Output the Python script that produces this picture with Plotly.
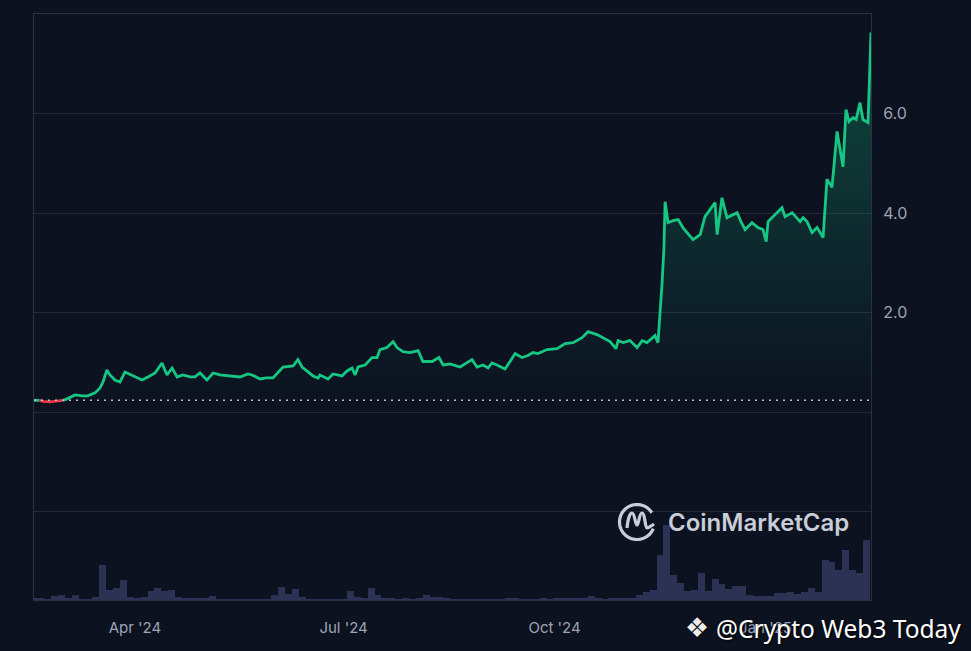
import numpy as np
import pandas as pd
import plotly.graph_objects as go

# ---------------- data ----------------
start_date = "2024-02-17"
end_date = "2025-02-16"

# day offsets from start_date and price (USD)
price_day = [
    0, 1.7, 3.9, 7.0, 10.5, 12.6, 14.4, 17.9, 20.9, 23.5,
    26.6, 28.8, 30.1, 31.8, 33.1, 35.3, 37.5, 39.7, 42.7, 44.9,
    47.1, 49.7, 52.8, 55.8, 58.0, 60.2, 62.4, 65.0, 68.0, 70.2,
    72.4, 75.4, 78.1, 81.1, 85.5, 89.8, 93.3, 95.1, 98.6, 101.2,
    104.2, 106.4, 108.6, 113.0, 115.1, 116.9, 119.5, 121.7, 123.9, 124.7,
    128.2, 130.4, 134.3, 136.5, 138.7, 140.0, 141.3, 144.4, 147.4, 149.6,
    150.9, 153.9, 156.6, 158.3, 160.9, 164.0, 167.5, 169.6, 173.6, 176.6,
    178.4, 181.4, 185.8, 188.8, 191.0, 193.2, 195.8, 198.0, 199.7, 201.9,
    205.4, 207.6, 209.8, 212.8, 215.4, 217.6, 219.8, 223.7, 228.1, 231.6,
    235.1, 239.0, 241.6, 245.5, 248.1, 251.2, 253.8, 254.7, 256.9, 259.9,
    263.0, 265.2, 267.3, 270.8, 272.1, 273.0, 273.9, 274.7, 275.2, 276.5,
    278.7, 280.9, 283.0, 284.8, 287.4, 290.5, 292.6, 294.8, 297.0, 297.9,
    300.0, 302.2, 306.6, 308.3, 310.1, 313.1, 315.7, 317.9, 319.3, 320.1,
    323.2, 326.2, 327.5, 330.6, 334.1, 335.4, 337.1, 339.3, 341.5, 344.1,
    345.8, 348.0, 350.2, 352.8, 354.1, 355.4, 357.2, 358.5, 360.2, 361.5,
    363.7, 365.0,
]
price_usd = [
    0.24, 0.25, 0.22, 0.21, 0.22, 0.24, 0.27, 0.35, 0.33, 0.33,
    0.39, 0.49, 0.61, 0.85, 0.75, 0.65, 0.61, 0.81, 0.75, 0.71,
    0.65, 0.71, 0.79, 0.99, 0.75, 0.89, 0.71, 0.75, 0.71, 0.71,
    0.79, 0.65, 0.79, 0.75, 0.73, 0.71, 0.77, 0.75, 0.67, 0.69,
    0.69, 0.81, 0.91, 0.93, 1.06, 0.91, 0.81, 0.73, 0.69, 0.75,
    0.67, 0.77, 0.73, 0.83, 0.89, 0.75, 0.91, 0.95, 1.10, 1.10,
    1.26, 1.30, 1.42, 1.30, 1.22, 1.20, 1.24, 1.02, 1.02, 1.10,
    0.95, 0.97, 0.91, 0.99, 1.06, 0.91, 0.95, 0.89, 0.99, 0.95,
    0.87, 1.02, 1.18, 1.10, 1.14, 1.20, 1.18, 1.26, 1.28, 1.38,
    1.40, 1.50, 1.62, 1.56, 1.50, 1.42, 1.28, 1.44, 1.40, 1.44,
    1.30, 1.44, 1.40, 1.54, 1.40, 1.96, 2.60, 3.30, 4.23, 3.81,
    3.85, 3.87, 3.71, 3.61, 3.47, 3.57, 3.93, 4.07, 4.21, 3.57,
    4.31, 3.91, 4.01, 3.83, 3.67, 3.81, 3.71, 3.67, 3.43, 3.83,
    3.97, 4.11, 3.93, 4.01, 3.83, 3.91, 3.83, 3.61, 3.71, 3.51,
    4.68, 4.52, 5.64, 4.93, 6.08, 5.84, 5.92, 5.88, 6.22, 5.88,
    5.82, 7.63,
]

# volume, one value per 3-day bucket (relative units)
volume_step_days = 3
volume = [
    1.5, 1.5, 1, 4, 5, 1.5, 5, 1, 0.7, 3,
    35, 10, 12, 20, 3, 2.5, 3, 9, 12, 9,
    10, 3, 2.5, 2, 2.5, 2, 3.5, 1, 0.7, 0.7,
    0.7, 0.7, 1, 0.7, 0.7, 5, 13, 6, 11, 3,
    1, 0.7, 0.7, 0.7, 1, 1, 9, 3, 2, 12,
    5, 2, 1.5, 1, 1.5, 1, 1.5, 5, 3, 3,
    2.5, 1, 0.7, 0.7, 0.7, 0.7, 0.7, 0.7, 0.7, 1.7,
    1.5, 0.7, 0.7, 1, 1.7, 1, 2, 2.5, 2.5, 2,
    1.5, 4, 2, 1, 1.5, 2.5, 2.5, 2.5, 5, 8,
    10, 45, 75, 25, 17, 9, 10, 27, 9, 21,
    16, 11, 14, 14, 5, 4, 4, 4, 7, 7,
    8, 6, 8, 12, 8, 40, 38, 30, 50, 30,
    27, 60,
]

x_tick_dates = ["2024-04-01", "2024-07-01", "2024-10-01", "2025-01-01"]
x_tick_labels = ["Apr '24", "Jul '24", "Oct '24", "Jan '25"]
y_tick_vals = [-2, 0, 2, 4, 6]
y_tick_labels = ["", "", "2.0", "4.0", "6.0"]
y_range = [-3.77, 8.0]

# ---------------- styling ----------------
BG = "#0c1220"
GRID = "#232838"
BORDER = "#2c3140"
GREEN = "#16c784"
RED = "#ea3943"
LABEL = "#9ea4b5"
VOL = "#2c3254"

# ---------------- build series ----------------
t0 = pd.Timestamp(start_date)
base = price_usd[0]
d = np.array(price_day, dtype=float)
v = np.array(price_usd, dtype=float)

# insert crossing points with the opening price so colours switch cleanly
xs, ys = [d[0]], [v[0]]
for k in range(1, len(d)):
    a, b = v[k - 1] - base, v[k] - base
    if a * b < 0:
        t = a / (a - b)
        xs.append(d[k - 1] + t * (d[k] - d[k - 1]))
        ys.append(base)
    xs.append(d[k])
    ys.append(v[k])
xs = np.array(xs)
ys = np.array(ys)
dates = t0 + pd.to_timedelta(xs, unit="D")
green = np.where(ys >= base, ys, np.nan)
red = np.where(ys <= base, ys, np.nan)

vol_dates = t0 + pd.to_timedelta(np.arange(len(volume)) * volume_step_days, unit="D")

fig = go.Figure()
fig.add_trace(go.Bar(
    x=vol_dates, y=volume, yaxis="y2",
    width=volume_step_days * 86400000,
    marker=dict(color=VOL, line=dict(width=0)),
    hoverinfo="skip",
))
fig.add_trace(go.Scatter(
    x=dates, y=np.full(len(ys), base), mode="lines",
    line=dict(width=0), hoverinfo="skip",
))
fig.add_trace(go.Scatter(
    x=dates, y=ys, mode="lines", line=dict(width=0),
    fill="tonexty",
    fillgradient=dict(type="vertical",
                      colorscale=[[0, "rgba(22,199,132,0.0)"],
                                  [1, "rgba(22,199,132,0.30)"]]),
    hoverinfo="skip",
))
fig.add_trace(go.Scatter(x=dates, y=green, mode="lines",
                         line=dict(color=GREEN, width=2.8)))
fig.add_trace(go.Scatter(x=dates, y=red, mode="lines",
                         line=dict(color=RED, width=2.8)))

# opening-price dotted reference line
shapes = [dict(type="line", xref="paper", x0=0, x1=1, yref="y", y0=base, y1=base,
               line=dict(color="#b8bdcc", width=1.5, dash="2px,5px"), layer="above")]

# CoinMarketCap logo (circle + wave) in pixel units around an anchor
px0 = (637 - 34) / 837
py0 = (600 - 522) / 586
ang = np.deg2rad(np.linspace(32, 338, 60))
r = 17.5
circ = "M " + " L ".join(f"{r*np.cos(a):.2f},{r*np.sin(a):.2f}" for a in ang)
wave = ("M -10,-6 C -9,4 -7,9 -5,9 C -2,9 -2,-3 0,-3 C 2,-3 2,9 5,9 "
        "C 8,9 8,-6 10,-6 C 12,-6 14,-4 17,-2")
for p in (circ, wave):
    shapes.append(dict(type="path", path=p, xref="paper", yref="paper",
                       xsizemode="pixel", ysizemode="pixel",
                       xanchor=px0, yanchor=py0,
                       line=dict(color="#c9cdd8", width=3.2), layer="above"))

annotations = [
    dict(text="CoinMarketCap", xref="paper", yref="paper",
         x=(666 - 34) / 837, y=(600 - 522) / 586, xanchor="left", yanchor="middle",
         showarrow=False,
         font=dict(family="Inter", size=24, color="#c9cdd8", weight=600)),
    dict(text="❖", xref="paper", yref="paper",
         x=(697 - 34) / 837, y=(600 - 627) / 586, xanchor="center", yanchor="middle",
         showarrow=False,
         font=dict(family="DejaVu Sans", size=27, color="#ececec", shadow="1px 1px 2px #000")),
    dict(text="@Crypto Web3 Today", xref="paper", yref="paper",
         x=(714 - 34) / 837, y=(600 - 628) / 586, xanchor="left", yanchor="middle",
         showarrow=False,
         font=dict(family="Noto Sans", size=24.5, color="#ffffff", shadow="1px 1px 3px #000")),
]

fig.update_layout(
    width=971, height=651,
    margin=dict(l=34, r=100, t=14, b=51),
    paper_bgcolor=BG, plot_bgcolor=BG,
    showlegend=False, bargap=0,
    shapes=shapes, annotations=annotations,
    xaxis=dict(
        type="date", range=[start_date, end_date],
        tickvals=x_tick_dates, ticktext=x_tick_labels,
        showgrid=False, zeroline=False,
        showline=True, linecolor=BORDER, linewidth=1, mirror=True,
        ticks="", ticklabelstandoff=14,
        tickfont=dict(family="Inter", size=15, color=LABEL),
    ),
    yaxis=dict(
        side="right", range=y_range,
        tickvals=y_tick_vals, ticktext=y_tick_labels,
        showgrid=True, gridcolor=GRID, gridwidth=1, zeroline=False,
        showline=True, linecolor=BORDER, linewidth=1, mirror=True,
        ticks="", ticklabelstandoff=8,
        tickfont=dict(family="Inter", size=16, color=LABEL),
    ),
    yaxis2=dict(overlaying="y", range=[0, max(volume) * 7.8], visible=False,
                fixedrange=True),
)

fig.write_html(
    "out.html",
    config={"displayModeBar": False},
    post_script="document.body.style.margin='0px';"
                "document.body.style.background='" + BG + "';",
)
